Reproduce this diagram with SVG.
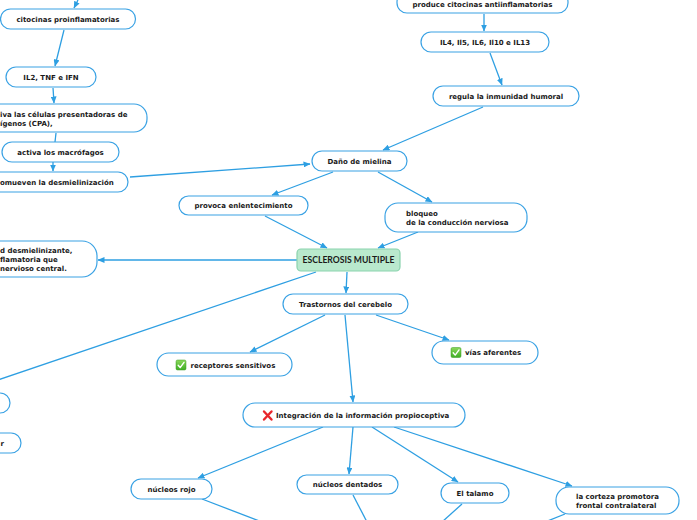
<svg xmlns="http://www.w3.org/2000/svg" width="697" height="520" viewBox="0 0 697 520">
<defs>
<style>
.bx{fill:#fff;stroke:#3aa2e4;stroke-width:1.2}
.em{fill:#b9e9cd;stroke:#8ad3ad;stroke-width:1.2}
.t{font-family:"DejaVu Sans",Verdana,sans-serif;font-weight:bold;font-size:7px;fill:#1a1a1a}
.c{text-anchor:middle}
.e{font-family:Lato,"Open Sans",sans-serif;font-weight:bold;font-size:8.6px;fill:#1a1a1a;text-anchor:middle}
.ln{stroke:#2e9fe2;stroke-width:1.3;fill:none}
.ar{marker-end:url(#ah)}
</style>
<marker id="ah" markerWidth="7" markerHeight="6" refX="6.5" refY="3" orient="auto" markerUnits="userSpaceOnUse">
<path d="M0,0 L7,3 L0,6 z" fill="#2e9fe2"/>
</marker>
<linearGradient id="gg" x1="0" y1="0" x2="0" y2="1">
<stop offset="0" stop-color="#8ad85a"/><stop offset="1" stop-color="#3fae25"/>
</linearGradient>
<g id="chk">
<rect x="0" y="0" width="10" height="10" rx="1.5" fill="url(#gg)" stroke="#3a9a22" stroke-width="0.5"/>
<path d="M2.2,5.2 L4.2,7.6 L8,2.4" fill="none" stroke="#fff" stroke-width="1.4" stroke-linecap="round" stroke-linejoin="round"/>
</g>
</defs>

<g id="connectors">
<line class="ln ar" x1="78" y1="0" x2="74" y2="8"/>
<line class="ln ar" x1="64" y1="30" x2="55" y2="66"/>
<line class="ln ar" x1="53" y1="88" x2="54" y2="103"/>
<line class="ln" x1="56" y1="133" x2="55" y2="142"/>
<line class="ln ar" x1="53" y1="162" x2="53" y2="171"/>
<line class="ln ar" x1="130" y1="177" x2="310" y2="164"/>
<line class="ln ar" x1="484" y1="14" x2="484" y2="31"/>
<line class="ln ar" x1="490" y1="53" x2="502" y2="85"/>
<line class="ln ar" x1="483" y1="107" x2="383" y2="150"/>
<line class="ln ar" x1="333" y1="172" x2="272" y2="195"/>
<line class="ln ar" x1="378" y1="172" x2="432" y2="202"/>
<line class="ln ar" x1="265" y1="216" x2="327" y2="248"/>
<line class="ln ar" x1="418" y1="232" x2="378" y2="248"/>
<line class="ln ar" x1="297" y1="260" x2="98" y2="260"/>
<line class="ln" x1="316" y1="272" x2="-20" y2="386"/>
<line class="ln ar" x1="347" y1="272" x2="346" y2="293"/>
<line class="ln ar" x1="325" y1="315" x2="250" y2="352"/>
<line class="ln ar" x1="376" y1="315" x2="449" y2="340"/>
<line class="ln ar" x1="345" y1="315" x2="353" y2="402"/>
<line class="ln ar" x1="323" y1="427" x2="198" y2="478"/>
<line class="ln ar" x1="353" y1="427" x2="349" y2="474"/>
<line class="ln ar" x1="372" y1="427" x2="458" y2="482"/>
<line class="ln ar" x1="394" y1="427" x2="572" y2="486"/>
<line class="ln" x1="202" y1="499" x2="262" y2="522"/>
<line class="ln" x1="353" y1="495" x2="367" y2="522"/>
<line class="ln" x1="462" y1="504" x2="442" y2="522"/>
<line class="ln" x1="565" y1="514" x2="545" y2="522"/>
</g>

<g id="n-citocinas-pro"><rect class="bx" x="0.5" y="9" width="135" height="20" rx="10"/><text class="t c" x="68" y="21.5">citocinas proinflamatorias</text></g>
<g id="n-il2"><rect class="bx" x="6" y="67" width="90" height="20" rx="10"/><text class="t c" x="51" y="79.5">IL2, TNF e IFN</text></g>
<g id="n-cpa"><rect class="bx" x="-40" y="104" width="187" height="28" rx="13"/><text class="t" x="0" y="117">iva las células presentadoras de</text><text class="t" x="0" y="126">ígenos (CPA),</text></g>
<g id="n-macrofagos"><rect class="bx" x="2" y="142" width="117" height="20" rx="10"/><text class="t c" x="60.5" y="154.5">activa los macrófagos</text></g>
<g id="n-promueven"><rect class="bx" x="-30" y="172" width="158" height="20" rx="10"/><text class="t" x="0" y="184.5">omueven la desmielinización</text></g>
<g id="n-dano"><rect class="bx" x="312" y="151" width="95" height="20" rx="10"/><text class="t c" x="359.5" y="163.5">Daño de mielina</text></g>
<g id="n-produce"><rect class="bx" x="397" y="-8" width="171" height="21" rx="10"/><text class="t c" x="482.5" y="6.5">produce citocinas antiinflamatorias</text></g>
<g id="n-il4"><rect class="bx" x="421" y="32" width="128" height="20" rx="10"/><text class="t c" x="485" y="44.5">IL4, Il5, IL6, Il10 e IL13</text></g>
<g id="n-regula"><rect class="bx" x="433" y="86" width="146" height="20" rx="10"/><text class="t c" x="506" y="98.5">regula la inmunidad humoral</text></g>
<g id="n-provoca"><rect class="bx" x="179" y="196" width="129" height="19" rx="9.5"/><text class="t c" x="243.5" y="208">provoca enlentecimiento</text></g>
<g id="n-bloqueo"><rect class="bx" x="385" y="203" width="142" height="29" rx="13"/><text class="t" x="406" y="215.5">bloqueo</text><text class="t" x="406" y="224.5">de la conducción nerviosa</text></g>
<g id="n-esclerosis"><rect class="em" x="297" y="249" width="103" height="22" rx="4"/><text class="e" x="348.5" y="263">ESCLEROSIS MULTIPLE</text></g>
<g id="n-definicion"><rect class="bx" x="-60" y="241" width="157" height="36" rx="15"/><text class="t" x="0" y="253">d desmielinizante,</text><text class="t" x="0" y="262">flamatoria que</text><text class="t" x="0" y="271">nervioso central.</text></g>
<g id="n-left1"><rect class="bx" x="-60" y="393" width="70" height="20" rx="10"/></g>
<g id="n-left2"><rect class="bx" x="-60" y="433" width="81" height="20" rx="10"/><text class="t" x="0.5" y="445.5">r</text></g>
<g id="n-trastornos"><rect class="bx" x="283" y="294" width="125" height="20" rx="10"/><text class="t c" x="345.5" y="306.5">Trastornos del cerebelo</text></g>
<g id="n-receptores"><rect class="bx" x="157" y="353" width="135" height="23" rx="11.5"/><use href="#chk" x="176" y="360"/><text class="t" x="190.5" y="367.5">receptores sensitivos</text></g>
<g id="n-vias"><rect class="bx" x="432" y="341" width="106" height="23" rx="11.5"/><use href="#chk" x="451" y="347.5"/><text class="t" x="465" y="355">vías aferentes</text></g>
<g id="n-integracion"><rect class="bx" x="243" y="403" width="222" height="24" rx="12"/><path d="M264,411.5 L271.5,419.5 M271.5,411.5 L264,419.5" stroke="#e8262b" stroke-width="2.4" stroke-linecap="round"/><text class="t" x="276" y="418">Integración de la información propioceptiva</text></g>
<g id="n-rojo"><rect class="bx" x="131" y="479" width="81" height="20" rx="10"/><text class="t c" x="171.5" y="491.5">núcleos rojo</text></g>
<g id="n-dentados"><rect class="bx" x="297" y="475" width="101" height="19" rx="9.5"/><text class="t c" x="347.5" y="487">núcleos dentados</text></g>
<g id="n-talamo"><rect class="bx" x="441" y="483" width="68" height="20" rx="10"/><text class="t c" x="475" y="495.5">El talamo</text></g>
<g id="n-corteza"><rect class="bx" x="556" y="487" width="123" height="27" rx="13"/><text class="t" x="576" y="499">la corteza promotora</text><text class="t" x="576" y="508">frontal contralateral</text></g>
</svg>
